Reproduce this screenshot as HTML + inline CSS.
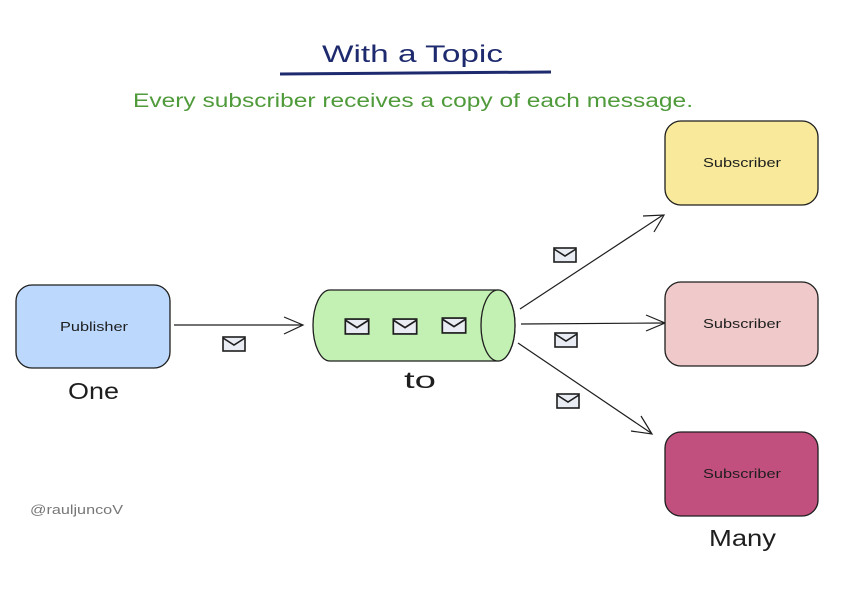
<!DOCTYPE html>
<html><head><meta charset="utf-8"><style>
html,body{margin:0;padding:0;background:#fff;}
svg{display:block;}
text{font-family:"Comic Sans MS","Liberation Sans",sans-serif;}
</style></head><body>
<svg width="845" height="600" viewBox="0 0 845 600" xmlns="http://www.w3.org/2000/svg">
<defs>
<symbol id="env" viewBox="0 0 24 16">
<rect x="1" y="1" width="22" height="14" fill="#e9ecf2" stroke="#1e1e1e" stroke-width="1.6"/>
<path d="M1 2 L12 9 L23 2" fill="none" stroke="#1e1e1e" stroke-width="1.6"/>
</symbol>
</defs>
<rect width="845" height="600" fill="#fff"/>
<text x="322" y="62" font-size="24" fill="#1e2a6e" textLength="181" lengthAdjust="spacingAndGlyphs">With a Topic</text>
<line x1="280" y1="74" x2="551" y2="72" stroke="#1e2a6e" stroke-width="3"/>
<text x="133" y="107" font-size="19" fill="#4f9a3a" textLength="560" lengthAdjust="spacingAndGlyphs">Every subscriber receives a copy of each message.</text>

<rect x="16" y="285" width="154" height="83" rx="16" fill="#bcd8fd" stroke="#1e1e1e" stroke-width="1.3"/>
<text x="60" y="331" font-size="13" fill="#1e1e1e" textLength="68" lengthAdjust="spacingAndGlyphs">Publisher</text>
<text x="68" y="399" font-size="23" fill="#1e1e1e" textLength="51" lengthAdjust="spacingAndGlyphs">One</text>

<line x1="174" y1="325" x2="302" y2="325" stroke="#1e1e1e" stroke-width="1.2"/>
<path d="M284 317 L303 325 L284 334" fill="none" stroke="#1e1e1e" stroke-width="1.2"/>
<use href="#env" x="222" y="336" width="24" height="16"/>

<path d="M330 290 L498 290 A17 35.5 0 0 1 498 361 L330 361 A17 35.5 0 0 1 330 290 Z" fill="#c3f0b3" stroke="#1e1e1e" stroke-width="1.3"/>
<ellipse cx="498" cy="325.5" rx="17" ry="35.5" fill="#c3f0b3" stroke="#1e1e1e" stroke-width="1.3"/>
<use href="#env" x="344" y="318" width="26" height="17"/>
<use href="#env" x="392" y="318" width="26" height="17"/>
<use href="#env" x="441" y="317" width="26" height="17"/>
<text x="404" y="388" font-size="23" fill="#1e1e1e" textLength="32" lengthAdjust="spacingAndGlyphs">to</text>

<line x1="520" y1="309" x2="663" y2="215" stroke="#1e1e1e" stroke-width="1.2"/>
<path d="M643 216 L664 215 L654 232" fill="none" stroke="#1e1e1e" stroke-width="1.2"/>
<line x1="521" y1="324" x2="664" y2="323" stroke="#1e1e1e" stroke-width="1.2"/>
<path d="M646 315 L665 323 L646 331" fill="none" stroke="#1e1e1e" stroke-width="1.2"/>
<line x1="518" y1="343" x2="651" y2="433" stroke="#1e1e1e" stroke-width="1.2"/>
<path d="M641 416 L652 434 L631 431" fill="none" stroke="#1e1e1e" stroke-width="1.2"/>
<use href="#env" x="553" y="247" width="24" height="16"/>
<use href="#env" x="554" y="332" width="24" height="16"/>
<use href="#env" x="556" y="393" width="24" height="16"/>

<rect x="665" y="121" width="153" height="84" rx="16" fill="#f8ea9a" stroke="#1e1e1e" stroke-width="1.3"/>
<text x="703" y="167" font-size="13" fill="#1e1e1e" textLength="78" lengthAdjust="spacingAndGlyphs">Subscriber</text>
<rect x="665" y="282" width="153" height="84" rx="16" fill="#f0caca" stroke="#1e1e1e" stroke-width="1.3"/>
<text x="703" y="328" font-size="13" fill="#1e1e1e" textLength="78" lengthAdjust="spacingAndGlyphs">Subscriber</text>
<rect x="665" y="432" width="153" height="84" rx="16" fill="#c2507e" stroke="#1e1e1e" stroke-width="1.3"/>
<text x="703" y="478" font-size="13" fill="#1e1e1e" textLength="78" lengthAdjust="spacingAndGlyphs">Subscriber</text>
<text x="709" y="546" font-size="23" fill="#1e1e1e" textLength="67" lengthAdjust="spacingAndGlyphs">Many</text>

<text x="30" y="514" font-size="13" fill="#777" textLength="93" lengthAdjust="spacingAndGlyphs">@rauljuncoV</text>
</svg>
</body></html>
